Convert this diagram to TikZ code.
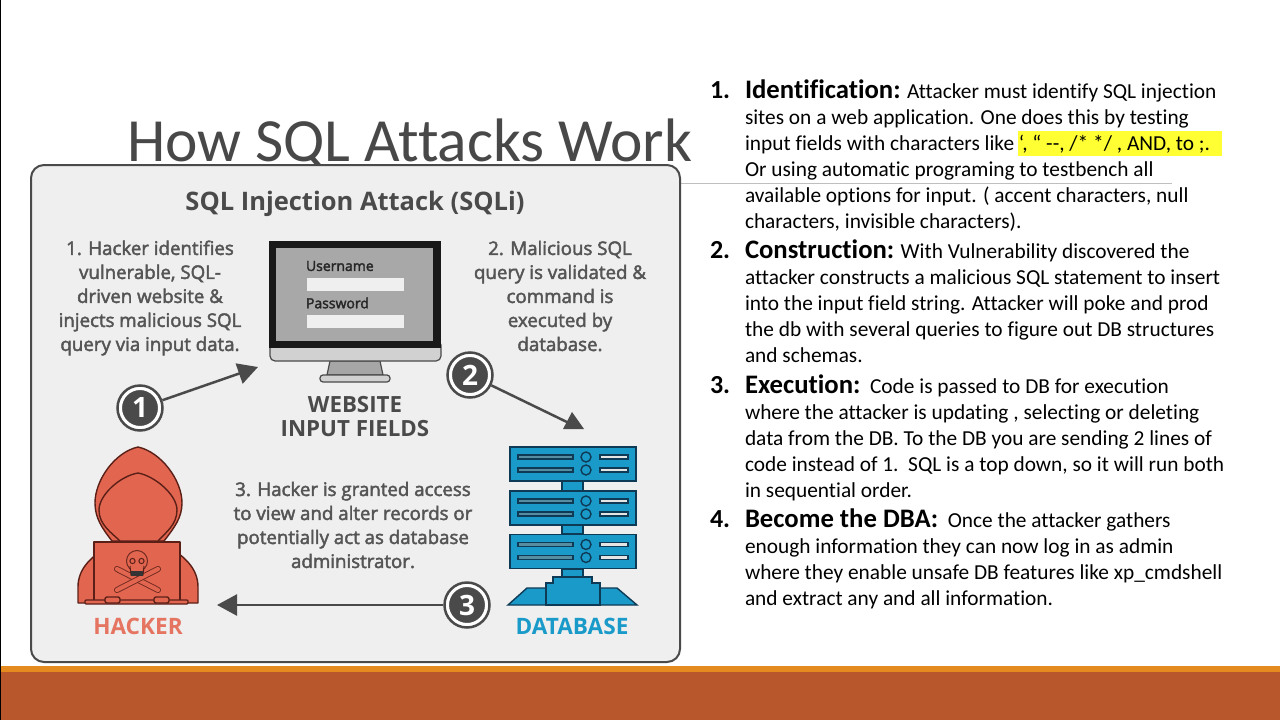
\documentclass[tikz,border=0pt]{standalone}
\usepackage{fontspec}
\setmainfont[Ligatures={NoCommon,NoRequired,NoContextual}]{Carlito}
\newfontfamily\infofont[FakeBold=2.4]{Open Sans}
\newfontfamily\headfont{Open Sans}
\usetikzlibrary{arrows.meta}
\definecolor{panelfill}{HTML}{EFEFEF}
\definecolor{ink}{HTML}{4A4A4A}
\definecolor{infotext}{HTML}{555555}
\definecolor{titleink}{HTML}{484848}
\definecolor{hackerred}{HTML}{E2654F}
\definecolor{hackerline}{HTML}{5A2018}
\definecolor{dbblue}{HTML}{1A9AC9}
\definecolor{dbline}{HTML}{0E3A55}
\definecolor{barorange}{HTML}{E58A1F}
\definecolor{barbrown}{HTML}{B8572B}
\definecolor{hilite}{HTML}{FFFF33}
\tikzset{
  txt/.style={inner sep=0pt,outer sep=0pt},
  item/.style={txt,anchor=north west,align=left,text=black,font=\fontsize{21.35}{26}\selectfont},
  num/.style={txt,anchor=base west,text=black,font=\fontsize{26}{26}\selectfont\bfseries},
  info/.style={txt,align=center,text=infotext,font=\fontsize{18.7}{24}\selectfont\infofont},
  caption/.style={txt,align=center,font=\fontsize{22.3}{24}\selectfont\headfont\bfseries},
  badge/.style={circle,fill=ink,draw=white,line width=2pt,minimum size=38pt,inner sep=0pt,text=white,font=\fontsize{28}{28}\selectfont\headfont\bfseries},
  badgering/.style={draw=ink,line width=2.5pt,fill=white},
  conn/.style={draw=ink,line width=2.5pt},
  tipped/.style={conn,-{Triangle[length=20pt,width=21pt]}},
  hk/.style={draw=hackerline,line width=1.4pt,fill=hackerred,line join=round},
  db/.style={draw=dbline,line width=1.4pt,fill=dbblue,line join=miter},
}
\newcommand{\serverrow}[1]{%
  \begin{scope}[yshift=-#1pt]
    \draw[db] (510,447) rectangle (636,481);
    \foreach \yy in {457,470}{
      \draw[draw=dbline,line width=1.2pt,fill=dbblue!60!black!70] (518,\yy-2) rectangle (573,\yy+2);
      \draw[draw=dbline,line width=1.4pt,fill=dbblue] (586,\yy) circle (5pt);
      \draw[draw=dbline,line width=1.2pt,fill=white!90!black] (600,\yy-2) rectangle (628,\yy+2);
    }
  \end{scope}}
\begin{document}
\begin{tikzpicture}[x=1pt,y=-1pt]
\useasboundingbox (0,0) rectangle (1280,720);
\fill[white] (0,0) rectangle (1280,720);
\fill[black] (0,0) rectangle (1,720);
\fill[barorange] (1,666) rectangle (1280,672);
\fill[barbrown] (1,672) rectangle (1280,720);
% title and rule
\draw[draw=black!25,line width=1pt] (680,183) -- (1172,183);
\node[txt,anchor=base west,text=titleink,font=\fontsize{61.4}{62}\selectfont] (title) at (127,161) {How SQL Attacks Work};
% panel
\draw[draw=ink,line width=2pt,fill=panelfill,rounded corners=13pt] (31,165) rectangle (680,662);
\node[txt,text=ink,font=\fontsize{25.5}{28}\selectfont\headfont\bfseries] (head) at (355,204) {SQL Injection Attack (SQLi)};
\node[info] (step1) at (150,298) {1. Hacker identifies\\vulnerable, SQL-\\driven website \&\\injects malicious SQL\\query via input data.};
\node[info] (step2) at (560,296) {2. Malicious SQL\\query is validated \&\\command is\\executed by\\database.};
\node[info] (step3) at (353,525) {3. Hacker is granted access\\to view and alter records or\\potentially act as database\\administrator.};
% monitor
\draw[draw=ink,line width=1.2pt,fill=black!35] (330,361) -- (380,361) -- (383,375) -- (327,375) -- cycle;
\draw[draw=ink,line width=1.2pt,fill=black!18,rounded corners=3pt] (320,375) rectangle (390,382);
\draw[draw=ink,line width=1.2pt,fill=black!18,rounded corners=5pt] (270,340) rectangle (441,361);
\fill[black!90] (269,241) rectangle (441,348);
\fill[black!34] (276,248) rectangle (433,341);
\fill[panelfill] (307,278) rectangle (404,291);
\fill[panelfill] (307,315) rectangle (404,328);
\node[txt,anchor=west,text=black!85,font=\fontsize{14}{16}\selectfont\infofont] (user) at (306,266) {Username};
\node[txt,anchor=west,text=black!85,font=\fontsize{14}{16}\selectfont\infofont] (pass) at (306,303) {Password};
\node[caption,text=ink] (site) at (355,417) {WEBSITE\\INPUT FIELDS};
% hacker
\draw[hk] (78,603) -- (78,587) .. controls (78,568) and (92,556) .. (110,545) -- (166,545) .. controls (184,556) and (198,568) .. (198,587) -- (198,603) -- cycle;
\draw[hk] (138,447) .. controls (115,452) and (95,480) .. (95,503) .. controls (95,518) and (102,528) .. (112,541) -- (164,541) .. controls (174,528) and (182,518) .. (182,503) .. controls (182,480) and (161,452) .. (138,447) -- cycle;
\draw[hk] (138,473) .. controls (120,476) and (99,495) .. (99,510) .. controls (99,525) and (112,533) .. (120,541) -- (158,541) .. controls (165,533) and (177,525) .. (177,510) .. controls (177,495) and (155,476) .. (138,473) -- cycle;
\draw[hk] (94,542) rectangle (180,601);
\draw[hk,rounded corners=1pt] (85,600) rectangle (188,604);
\draw[hk,rounded corners=2pt] (105,597) rectangle (120,603);
\draw[hk,rounded corners=2pt] (154,597) rectangle (169,603);
% skull and crossbones
\foreach \a/\b/\c/\d in {117/569/158/590,117/590/158/569}{
  \draw[hackerline!85!hackerred,line width=6pt,line cap=round] (\a,\b) -- (\c,\d);
  \draw[hackerred,line width=4.2pt,line cap=round] (\a,\b) -- (\c,\d);
}
\draw[hackerline!85!hackerred,line width=1pt,fill=hackerred] (137,561) circle (10.5pt);
\draw[hackerline,line width=1pt,fill=hackerred] (130,566) -- (131,575) -- (143,575) -- (144,566);
\draw[hackerline,line width=1pt,fill=hackerred] (132.5,561) circle (2.6pt) (141.5,561) circle (2.6pt);
\fill[black!80] (131,571) rectangle (143,576);
\node[txt,text=hackerred!90!white,font=\fontsize{22.6}{24}\selectfont\headfont\bfseries] (hackerlabel) at (138,626) {HACKER};
% database
\draw[db] (562,481) rectangle (583,491);
\draw[db] (562,525) rectangle (583,534);
\draw[db] (562,569) rectangle (583,577);
\draw[db] (508,605) -- (527,588) -- (617,588) -- (637,605) -- cycle;
\draw[db] (546,605) -- (546,583) -- (553,583) -- (553,577) -- (592,577) -- (592,583) -- (600,583) -- (600,605) -- cycle;
\serverrow{0}
\serverrow{44}
\serverrow{87.5}
\node[txt,text=dbblue,font=\fontsize{22.6}{24}\selectfont\headfont\bfseries] (dblabel) at (572,626) {DATABASE};
% connectors
\coordinate (tip1) at (258,367);
\coordinate (tip2) at (571,424);
\coordinate (tip3) at (217,605);
\node[circle,badgering,minimum size=45pt,inner sep=0pt] (ring1) at (140,408) {};
\node[circle,badgering,minimum size=45pt,inner sep=0pt] (ring2) at (470,375) {};
\node[circle,badgering,minimum size=45pt,inner sep=0pt] (ring3) at (467,605) {};
\draw[tipped] (ring1) -- (tip1);
\draw[conn] (ring2) -- (tip2);
\fill[ink] (572,412) -- (584,429) -- (563,429) -- cycle;
\draw[tipped] (ring3) -- (tip3);
\node[badge] (b1) at (ring1) {1};
\node[badge] (b2) at (ring2) {2};
\node[badge] (b3) at (ring3) {3};
% right column
\fill[hilite] (1018,131) rectangle (1222,156);
\node[num] (n1) at (710,98) {1.};
\node[num] (n2) at (710,258) {2.};
\node[num] (n3) at (710,393) {3.};
\node[num] (n4) at (710,527) {4.};
\node[item] (i1) at (745,80) {{\fontsize{26.7}{26}\selectfont\bfseries Identification:} Attacker must identify SQL injection\\sites on a web application. One does this by testing\\input fields with characters like ‘, “ -{}-, /* */ , AND, to ;.\\Or using automatic programing to testbench all\\available options for input. ( accent characters, null\\characters, invisible characters).};
\node[item] (i2) at (745,240) {{\fontsize{26.7}{26}\selectfont\bfseries Construction:} With Vulnerability discovered the\\attacker constructs a malicious SQL statement to insert\\into the input field string. Attacker will poke and prod\\the db with several queries to figure out DB structures\\and schemas.};
\node[item] (i3) at (745,375) {{\fontsize{26.7}{26}\selectfont\bfseries Execution:}\ \ Code is passed to DB for execution\\where the attacker is updating , selecting or deleting\\data from the DB. To the DB you are sending 2 lines of\\code instead of 1.\ \ SQL is a top down, so it will run both\\in sequential order.};
\node[item] (i4) at (745,509) {{\fontsize{26.7}{26}\selectfont\bfseries Become the DBA:}\ \ Once the attacker gathers\\enough information they can now log in as admin\\where they enable unsafe DB features like xp\_cmdshell\\and extract any and all information.};
\end{tikzpicture}
\end{document}
